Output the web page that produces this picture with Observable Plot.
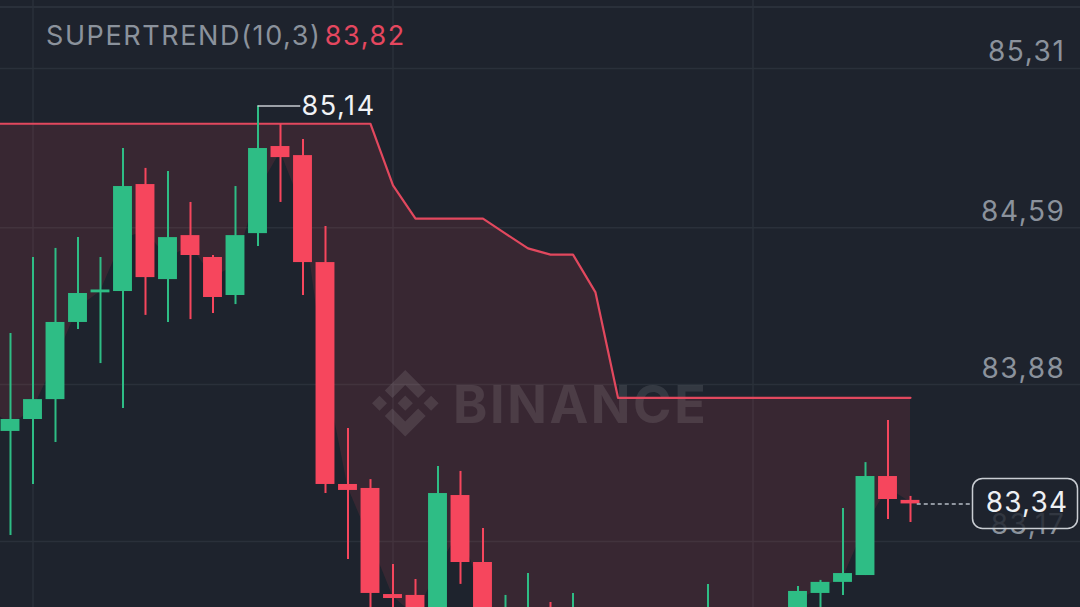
<!DOCTYPE html>
<html><head><meta charset="utf-8">
<script src="https://cdn.jsdelivr.net/npm/d3@7"></script>
<script src="https://cdn.jsdelivr.net/npm/@observablehq/plot@0.6"></script>
<style>
html,body{margin:0;padding:0;background:#1e232d;overflow:hidden;width:1080px;height:607px}
#wrap{position:relative;width:1080px;height:607px}
#legend{position:absolute;left:46px;top:18px;font:27px Inter, sans-serif;color:#8b929c;white-space:nowrap;line-height:36px;letter-spacing:1.6px}
#legend span{color:#e5475f;margin-left:-6px}
#topline{position:absolute;left:0;top:6px;width:1080px;height:2px;background:#2a303a}
#chart svg text{letter-spacing:1.6px}
</style></head><body><div id="wrap"><div id="chart"></div><div id="topline"></div><div id="legend">SUPERTREND(10,3) <span>83,82</span></div></div>
<script>
// candle index (time slot)
const index = [-1,0,1,2,3,4,5,6,7,8,9,10,11,12,13,14,15,16,17,18,19,20,21,22,23,24,25,26,27,28,29,30,31,32,33,34,35,36,37,38,39,40];
const open  = [83.70,83.668,83.722,83.812,84.161,84.295,84.301,84.785,84.355,84.554,84.455,84.283,84.563,84.957,84.916,84.432,83.428,83.410,82.930,82.926,82.70,83.378,83.075,82.73,82.76,82.85,82.77,82.84,82.73,82.64,82.72,82.66,82.76,82.85,82.77,82.81,82.86,82.935,82.985,83.016,83.464,83.356];
const high  = [83.95,84.111,84.455,84.496,84.545,84.455,84.948,84.858,84.844,84.704,84.464,84.776,85.14,85.057,84.989,84.595,83.681,83.450,83.066,82.998,83.509,83.487,83.229,82.926,83.025,82.894,82.935,82.86,82.78,82.77,82.80,82.84,82.976,82.86,82.85,82.865,82.966,82.994,83.319,83.527,83.717,83.374];
const low   = [83.60,83.197,83.428,83.618,84.129,83.975,83.772,84.193,84.161,84.174,84.202,84.242,84.505,84.704,84.283,83.387,83.089,82.80,82.76,82.68,82.64,82.976,82.70,82.68,82.70,82.72,82.71,82.66,82.58,82.59,82.61,82.62,82.70,82.71,82.72,82.75,82.80,82.82,82.926,83.016,83.270,83.256];
const close = [83.86,83.722,83.812,84.161,84.292,84.308,84.776,84.364,84.545,84.464,84.274,84.554,84.948,84.907,84.432,83.428,83.401,82.935,82.912,82.74,83.387,83.075,82.76,82.85,82.86,82.79,82.86,82.72,82.64,82.72,82.66,82.77,82.85,82.77,82.82,82.86,82.944,82.985,83.025,83.464,83.360,83.340];
const supertrend = [85.06,85.06,85.06,85.06,85.06,85.06,85.06,85.06,85.06,85.06,85.06,85.06,85.06,85.06,85.06,85.06,85.06,85.06,84.781,84.631,84.631,84.631,84.631,84.563,84.496,84.468,84.468,84.297,83.82,83.82,83.82,83.82,83.82,83.82,83.82,83.82,83.82,83.82,83.82,83.82,83.82,83.82];
const priceTicks = [85.31, 84.59, 83.88, 83.17];
const priceTickLabels = ["85,31", "84,59", "83,88", "83,17"];
const timeGrid = [1, 17, 33];
const highIndex = 11, highValue = 85.14, highLabel = "85,14";
const lastPrice = 83.34, lastPriceLabel = "83,34";

const UP = "#2ebd85", DOWN = "#f6465d", BG = "#1e232d", GRID = "#2a303a";
const data = index.map((i, k) => ({i, o: open[k], h: high[k], l: low[k], c: close[k], st: supertrend[k],
  mid: (open[k] + close[k]) / 2, col: close[k] >= open[k] ? UP : DOWN}));
const lastI = index[index.length - 1];

const logoPaths = [
  "M38.73 53.2l24.59-24.58 24.6 24.6 14.3-14.31L63.32 0 24.42 38.9l14.31 14.3z",
  "M0 63.31l14.3-14.31 14.31 14.31-14.31 14.3z",
  "M38.73 73.41l24.59 24.59 24.6-24.6 14.31 14.29-38.9 38.91-38.91-38.88-.02-.02z",
  "M98.28 63.31l14.3-14.31 14.31 14.3-14.31 14.32z",
  "M77.83 63.3L63.32 48.78 52.59 59.51l-1.24 1.23-2.54 2.54 14.51 14.5 14.51-14.47z"
];

const watermark = (idx, scales, values, dim) => {
  const g = d3.create("svg:g").attr("fill", "#ffffff").attr("fill-opacity", 0.1);
  const cx = dim.width / 2;
  const lg = g.append("g").attr("transform", `translate(${cx - 168},370) scale(0.525)`);
  logoPaths.forEach(p => lg.append("path").attr("d", p));
  g.append("text").attr("x", cx - 87).attr("y", 423).attr("text-anchor", "start").attr("font-family", "Inter, sans-serif")
    .attr("font-weight", 700).attr("font-size", 52).style("letter-spacing", "2.6px").text("BINANCE");
  return g.node();
};

const priceBox = (idx, scales, values, dim) => {
  const y = scales.y(lastPrice);
  const g = d3.create("svg:g");
  g.append("rect").attr("x", dim.width - 107.5).attr("y", y - 25).attr("width", 105).attr("height", 50)
    .attr("rx", 10).attr("fill", BG).attr("fill-opacity", 0.82).attr("stroke", "#c9cdd3").attr("stroke-width", 1.5);
  g.append("text").attr("x", dim.width - 53).attr("y", y + 1).attr("text-anchor", "middle")
    .attr("dominant-baseline", "middle").attr("font-family", "Inter, sans-serif").attr("font-size", 28)
    .style("letter-spacing", "1.2px").attr("fill", "#eef0f3").text(lastPriceLabel);
  return g.node();
};

const chart = Plot.plot({
  width: 1080, height: 607, margin: 0,
  style: {background: BG, overflow: "hidden"},
  x: {type: "linear", domain: [-10 / 22.5, -10 / 22.5 + 1080 / 22.5], axis: null},
  y: {domain: [82.8714, 85.6177], axis: null},
  color: {type: "identity"},
  marks: [
    Plot.gridY(priceTicks, {stroke: GRID, strokeOpacity: 1, strokeWidth: 1.5}),
    Plot.gridX(timeGrid, {stroke: GRID, strokeOpacity: 1, strokeWidth: 1.5}),
    Plot.areaY(data, {x: "i", y1: "st", y2: "mid", fill: DOWN, fillOpacity: 0.12, clip: true}),
    watermark,
    Plot.line(data, {x: "i", y: "st", stroke: "#e2485e", strokeWidth: 2.2, clip: true}),
    Plot.ruleX(data, {x: "i", y1: "l", y2: "h", stroke: "col", strokeWidth: 2, clip: true}),
    Plot.rect(data, {x1: d => d.i - 0.42, x2: d => d.i + 0.42, y1: "o", y2: "c", fill: "col", clip: true}),
    Plot.text(priceTicks, {y: d => d, text: (d, k) => priceTickLabels[k], frameAnchor: "right", textAnchor: "end",
      dx: -15, dy: -16, fill: "#8b929c", fontSize: 28, fontFamily: "Inter, sans-serif"}),
    Plot.ruleY([highValue], {x1: highIndex, x2: highIndex + 1.9, stroke: "#c7cbd1", strokeWidth: 1.5}),
    Plot.text([highValue], {x: highIndex + 1.93, y: d => d, text: () => highLabel, textAnchor: "start",
      fill: "#f0f2f5", fontSize: 27, fontFamily: "Inter, sans-serif"}),
    Plot.ruleY([lastPrice], {x1: lastI + 0.3, x2: lastI + 2.76, stroke: "#b7bdc6", strokeWidth: 1.5, strokeDasharray: "4,3"}),
    priceBox
  ]
});
document.getElementById("chart").appendChild(chart);
</script>
</body></html>
